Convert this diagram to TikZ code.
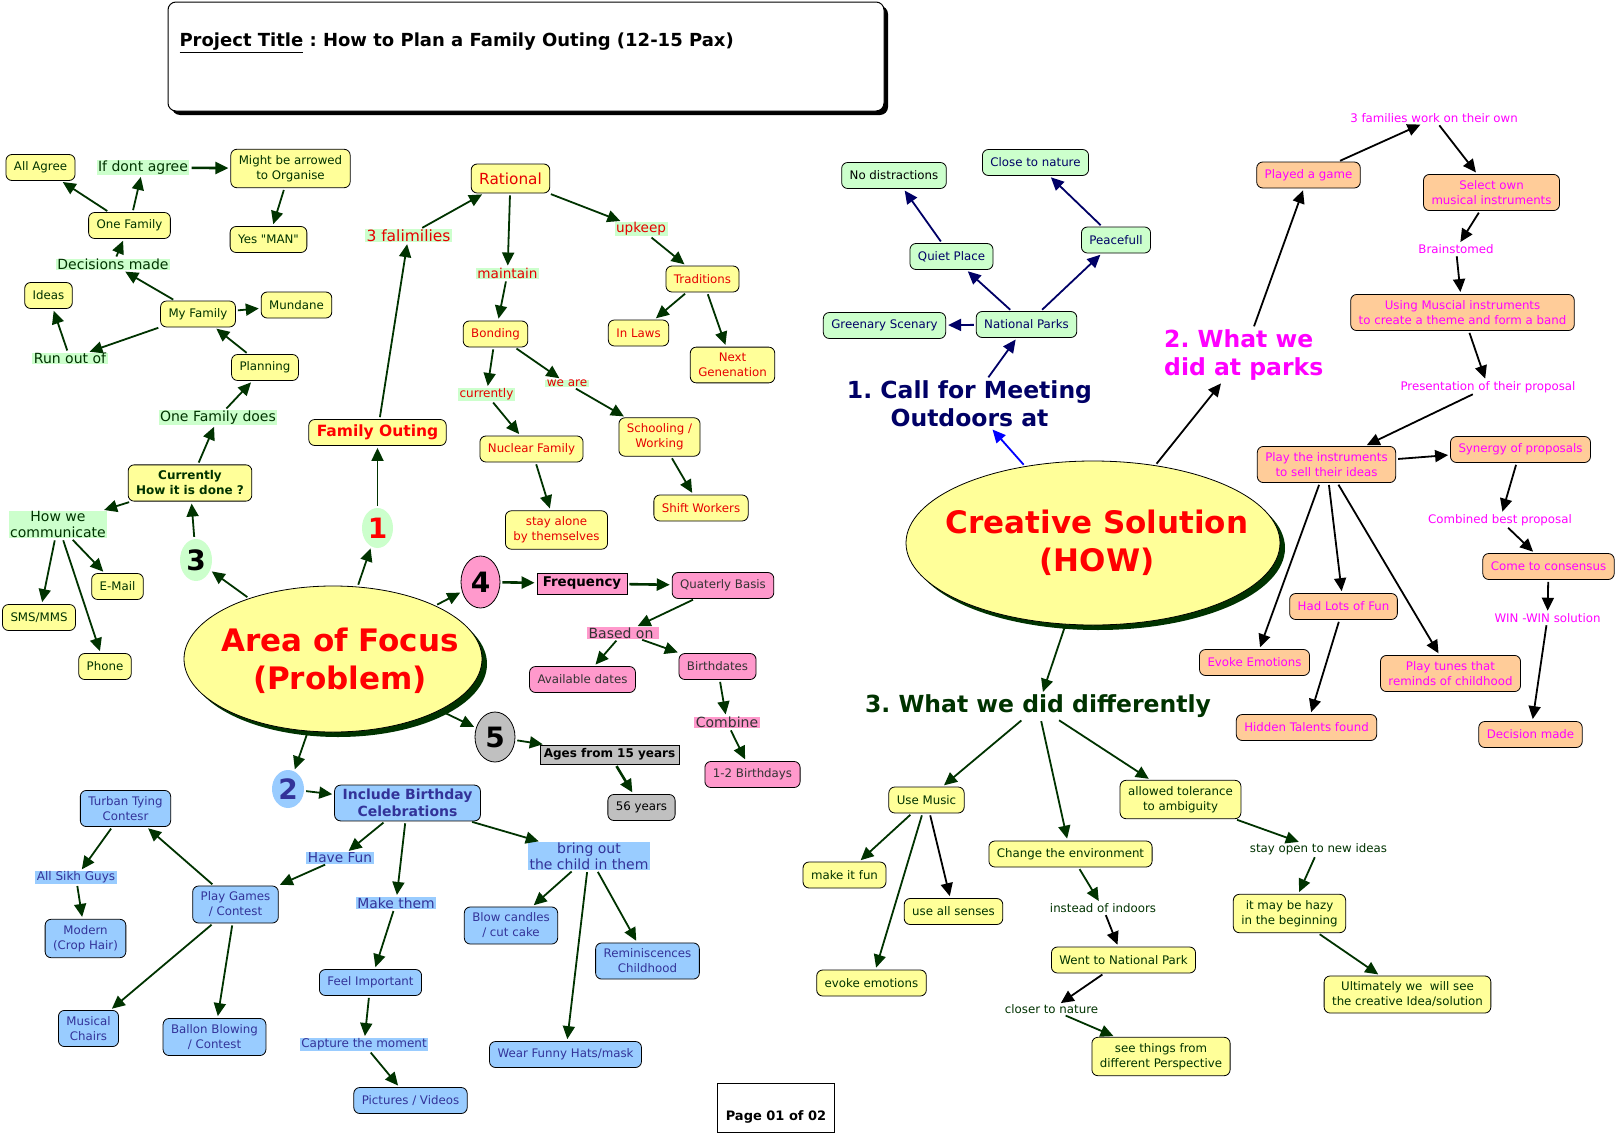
\documentclass[tikz,border=0pt]{standalone}
\usepackage{fontspec}
\setmainfont{DejaVu Sans}
\newfontfamily\qfont{DejaVu Sans}
\usetikzlibrary{arrows.meta,shapes.geometric,shadows}
\frenchspacing

\definecolor{yel}{HTML}{FFFF99}
\definecolor{dkg}{HTML}{003300}
\definecolor{mint}{HTML}{CCFFCC}
\definecolor{redt}{HTML}{FF0000}
\definecolor{redm}{HTML}{E60000}
\definecolor{pinkf}{HTML}{FF99CC}
\definecolor{pinktxt}{HTML}{333333}
\definecolor{grayf}{HTML}{C0C0C0}
\definecolor{bluef}{HTML}{99CCFF}
\definecolor{bluet}{HTML}{333399}
\definecolor{navy}{HTML}{000066}
\definecolor{peach}{HTML}{FFCC99}
\definecolor{mag}{HTML}{FF00FF}

\newcommand\fz[2]{\fontsize{#1pt}{#2pt}\selectfont}
% straight double quote, set without the TeX quote mapping
\newcommand\sq{{\qfont"}}

\tikzset{
  base/.style={rounded corners=6pt, draw=black, line width=0.8pt, align=center,
    inner xsep=8pt, inner ysep=6pt, minimum height=26pt, font=\fz{11.8}{15}},
  ybox/.style={base, fill=yel, text=dkg},
  yboxr/.style={base, fill=yel, text=redm},
  bbox/.style={base, fill=bluef, text=bluet},
  gbox/.style={base, fill=mint, text=navy},
  obox/.style={base, fill=peach, text=mag},
  pbox/.style={base, fill=pinkf, text=pinktxt},
  graybox/.style={base, fill=grayf, text=black},
  lab/.style={inner xsep=1.5pt, inner ysep=0.5pt, align=center},
  labg/.style={lab, fill=mint, text=dkg, font=\fz{14}{16}},
  labr/.style={lab, fill=mint, text=redm, font=\fz{12}{14}},
  labp/.style={lab, fill=pinkf, text=pinktxt, font=\fz{14}{16}},
  labb/.style={lab, fill=bluef, text=bluet, font=\fz{12}{14}},
  labm/.style={lab, text=mag, font=\fz{11.8}{14}},
  labd/.style={lab, text=dkg, font=\fz{11.8}{14}},
  num/.style={ellipse, inner sep=0pt, font=\fz{28}{30}\bfseries},
  focus/.style={ellipse, fill=yel, draw=black, line width=0.8pt, inner sep=0pt,
    drop shadow={shadow xshift=5pt, shadow yshift=-5pt, fill=dkg, opacity=1}},
  focustxt/.style={text=redt, align=center, font=\fz{31}{38}\bfseries},
  bigtxt/.style={align=center, inner sep=1pt, font=\fz{23.5}{28.5}\bfseries},
  ar/.style={-{Triangle[length=13pt,width=12pt]}, line width=1.8pt,
    shorten <=2pt, shorten >=2pt},
  ag/.style={ar, draw=dkg},
  agt/.style={ag, line width=2.6pt},
  anv/.style={ar, draw=navy},
  abk/.style={ar, draw=black},
  abl/.style={ar, draw=blue},
}

\begin{document}
\begin{tikzpicture}[x=1pt, y=-1pt]
\fill[white] (0,0) rectangle (1618,1135);
\useasboundingbox (0,0) rectangle (1618,1135);

% ---------- title and page ----------
\node[draw=black, line width=1pt, rounded corners=8pt, fill=white,
  minimum width=716pt, minimum height=109pt,
  drop shadow={shadow xshift=4pt, shadow yshift=-4pt, fill=black, opacity=1}]
  (titlebox) at (526,56.5) {};
\node[anchor=west, font=\fz{18}{22}\bfseries] (title) at (176,43)
  {\underline{Project Title} : How to Plan a Family Outing (12-15 Pax)};
\node[draw=black, line width=1pt, minimum width=117pt, minimum height=49pt] (page) at (775.5,1107.5) {};
\node[font=\fz{13}{15}\bfseries] (pagetxt) at (776,1117) {Page 01 of 02};

% ---------- area of focus ----------
\node[focus, minimum width=298pt, minimum height=146pt] (area) at (333,659) {};
\node[focustxt] (areatxt) at (340,661) {Area of Focus\\(Problem)};

% branch 3
\node[num, fill=mint, minimum width=32pt, minimum height=42pt] (n3) at (196,560) {3};
\node[ybox, font=\fz{12}{15}\bfseries] (currently) at (190,483) {Currently\\How it is done ?};
\node[labg] (howwe) at (58,524.5) {How we\\communicate};
\node[ybox] (email) at (117.5,586.5) {E-Mail};
\node[ybox] (sms) at (39,617.5) {SMS/MMS};
\node[ybox] (phone) at (105,666.5) {Phone};
\node[labg] (onefamdoes) at (218,417.5) {One Family does};
\node[ybox] (planning) at (265,367.5) {Planning};
\node[ybox] (myfam) at (198,314) {My Family};
\node[ybox] (mundane) at (296.5,305) {Mundane};
\node[labg] (runout) at (70,358.5) {Run out of};
\node[ybox] (ideas) at (48.5,295.5) {Ideas};
\node[labg] (decisions) at (113,264.5) {Decisions made};
\node[ybox] (onefam) at (129.5,225.5) {One Family};
\node[ybox] (allagree) at (40.5,167.5) {All Agree};
\node[labg] (ifdont) at (143,167.5) {If dont agree};
\node[ybox] (might) at (290.5,168.5) {Might be arrowed\\to Organise};
\node[ybox] (yesman) at (268.5,239.5) {Yes \sq MAN\sq};

% branch 1
\node[num, fill=mint, text=redt, minimum width=31pt, minimum height=40pt] (n1) at (377.5,528) {1};
\node[ybox, text=redt, font=\fz{15.5}{18}\bfseries, inner ysep=4pt] (outing) at (377.5,432.5) {Family Outing};
\node[labr, font=\fz{15.5}{18}] (threefal) at (408.5,235.5) {3 falimilies};
\node[yboxr, font=\fz{15.3}{18}, minimum height=29pt] (rational) at (510.5,178.5) {Rational};
\node[labr, font=\fz{13.6}{16}] (maintain) at (507.5,273.5) {maintain};
\node[labr, font=\fz{13.6}{16}] (upkeep) at (641,229) {upkeep};
\node[yboxr] (traditions) at (702.5,279) {Traditions};
\node[yboxr] (bonding) at (495.5,334) {Bonding};
\node[yboxr] (inlaws) at (638.5,333) {In Laws};
\node[yboxr] (nextgen) at (732.5,365) {Next\\Genenation};
\node[labr] (currentlyl) at (486.5,394.5) {currently};
\node[labr] (weare) at (567,383.5) {we are};
\node[yboxr] (nuclear) at (531.5,449) {Nuclear Family};
\node[yboxr] (schooling) at (659.5,437) {Schooling /\\Working};
\node[yboxr] (shift) at (701,508) {Shift Workers};
\node[yboxr] (alone) at (556.5,530) {stay alone\\by themselves};

% branch 4
\node[num, fill=pinkf, draw=black, line width=0.8pt, minimum width=39pt, minimum height=52pt] (n4) at (480.5,582) {4};
\node[draw=black, line width=0.8pt, fill=pinkf, inner sep=1pt, minimum width=90pt, minimum height=21pt,
  font=\fz{13.4}{15}\bfseries] (freq) at (582,583.5) {Frequency};
\node[pbox] (quaterly) at (723,585.5) {Quaterly Basis};
\node[labp] (basedon) at (623,633) {Based on\hspace{4pt}};
\node[pbox] (avail) at (582.5,679.5) {Available dates};
\node[pbox] (birth) at (717.5,666.5) {Birthdates};
\node[labp] (combine) at (727,722.5) {Combine};
\node[pbox] (onetwo) at (752.5,774.5) {1-2 Birthdays};

% branch 5
\node[num, fill=grayf, draw=black, line width=0.8pt, minimum width=40pt, minimum height=50pt] (n5) at (495,737) {5};
\node[draw=black, line width=0.8pt, fill=grayf, inner sep=1pt, minimum width=139pt, minimum height=19pt,
  font=\fz{12}{14}\bfseries] (ages) at (609.5,754.5) {Ages from 15 years};
\node[graybox] (fiftysix) at (641.5,807.5) {56 years};

% branch 2
\node[num, fill=bluef, text=bluet, minimum width=32pt, minimum height=38pt] (n2) at (288,789) {2};
\node[bbox, font=\fz{14}{17}\bfseries, inner ysep=4pt] (include) at (407.5,803) {Include Birthday\\Celebrations};
\node[bbox] (turban) at (125.5,808.5) {Turban Tying\\Contesr};
\node[labb, font=\fz{13.7}{16}] (havefun) at (340,858) {Have Fun};
\node[labb] (sikh) at (76,877.5) {All Sikh Guys};
\node[bbox] (playgames) at (235.5,904.5) {Play Games\\/ Contest};
\node[labb, font=\fz{13.9}{16}] (makethem) at (396,903) {Make them};
\node[bbox] (modern) at (85.5,938.5) {Modern\\(Crop Hair)};
\node[labb, font=\fz{14}{16}] (bringout) at (589,856) {bring out\\the child in them};
\node[bbox] (blow) at (511,925.5) {Blow candles\\/ cut cake};
\node[bbox] (remin) at (647.5,961) {Reminiscences\\Childhood};
\node[bbox] (feel) at (370.5,982.5) {Feel Important};
\node[bbox] (musical) at (88.5,1028.5) {Musical\\Chairs};
\node[bbox] (ballon) at (214.5,1037) {Ballon Blowing\\/ Contest};
\node[labb] (capture) at (364,1044.5) {Capture the moment};
\node[bbox] (wear) at (565.5,1054.5) {Wear Funny Hats/mask};
\node[bbox] (pictures) at (410.5,1100.5) {Pictures / Videos};

% ---------- creative solution ----------
\node[focus, minimum width=374pt, minimum height=164pt] (creative) at (1093,543) {};
\node[focustxt] (creativetxt) at (1097,543) {Creative Solution\\(HOW)};

% 1. meeting outdoors
\node[bigtxt, text=navy] (call) at (969.5,403.5) {1. Call for Meeting\\Outdoors at};
\node[gbox, text=black] (nodist) at (894,175.5) {No distractions};
\node[gbox] (closenat) at (1035.5,162.5) {Close to nature};
\node[gbox] (quiet) at (951.5,256.5) {Quiet Place};
\node[gbox] (peace) at (1116,240) {Peacefull};
\node[gbox] (greenary) at (884.5,325.5) {Greenary Scenary};
\node[gbox] (natparks) at (1026.5,324.5) {National Parks};

% 2. at the parks
\node[bigtxt, text=mag, align=left, anchor=west] (what2) at (1163,355) {2. What we\\did at parks};
\node[obox] (played) at (1308.5,175) {Played a game};
\node[labm] (threefam) at (1434,118.5) {3 families work on their own};
\node[obox] (select) at (1491.5,192.5) {Select own\\musical instruments};
\node[labm] (brain) at (1456,249) {Brainstomed};
\node[obox] (using) at (1462.5,312.5) {Using Muscial instruments\\to create a theme and form a band};
\node[labm] (present) at (1488,387) {Presentation of their proposal};
\node[obox] (playinst) at (1326.5,464.5) {Play the instruments\\to sell their ideas};
\node[obox] (synergy) at (1520.5,449.5) {Synergy of proposals};
\node[labm] (combined) at (1500,520) {Combined best proposal};
\node[obox] (consensus) at (1548.5,566.5) {Come to consensus};
\node[obox] (lotsfun) at (1343.5,606.5) {Had Lots of Fun};
\node[labm] (winwin) at (1547.5,618) {WIN -WIN solution};
\node[obox] (evoke) at (1254.5,662.5) {Evoke Emotions};
\node[obox] (tunes) at (1450.5,673.5) {Play tunes that\\reminds of childhood};
\node[obox] (hidden) at (1306.5,727.5) {Hidden Talents found};
\node[obox] (decision) at (1530.5,734.5) {Decision made};

% 3. done differently
\node[bigtxt, text=dkg] (what3) at (1038,706.5) {3. What we did differently};
\node[ybox] (usemusic) at (926.5,800) {Use Music};
\node[ybox] (makefun) at (844.5,875) {make it fun};
\node[ybox] (senses) at (953.5,911.5) {use all senses};
\node[ybox] (evokeem) at (871.5,983) {evoke emotions};
\node[ybox] (changeenv) at (1070.5,854) {Change the environment};
\node[labd] (instead) at (1103,908) {instead of indoors};
\node[ybox] (went) at (1123.5,960) {Went to National Park};
\node[labd] (closer) at (1051.5,1009.5) {closer to nature};
\node[ybox] (seethings) at (1161,1056.5) {see things from\\different Perspective};
\node[ybox] (allowed) at (1180.5,799.5) {allowed tolerance\\to ambiguity};
\node[labd] (stayopen) at (1318.5,849) {stay open to new ideas};
\node[ybox] (hazy) at (1289.5,913.5) {it may be hazy\\in the beginning};
\node[ybox] (ultimately) at (1407.5,994.5) {Ultimately we\ \ will see\\the creative Idea/solution};

% ---------- connectors: area of focus ----------
\draw[ag] (area) -- (n3);
\draw[ag] (n3) -- (currently);
\draw[ag] (currently) -- (howwe);
\draw[ag] (howwe) -- (sms);
\draw[ag] (howwe) -- (email);
\draw[ag] (howwe) -- (phone);
\draw[ag] (currently) -- (onefamdoes);
\draw[ag] (onefamdoes) -- (planning);
\draw[ag] (planning) -- (myfam);
\draw[ag] (myfam) -- (mundane);
\draw[ag] (myfam) -- (runout);
\draw[ag] (runout) -- (ideas);
\draw[ag] (myfam) -- (decisions);
\draw[ag] (decisions) -- (onefam);
\draw[ag] (onefam) -- (allagree);
\draw[ag] (onefam) -- (ifdont);
\draw[agt] (ifdont) -- (might);
\draw[ag] (might) -- (yesman);

\draw[ag] (area) -- (n1);
\draw[ag] (n1) -- (outing);
\draw[ag] (outing) -- (threefal);
\draw[ag] (threefal) -- (rational);
\draw[ag] (rational) -- (maintain);
\draw[ag] (maintain) -- (bonding);
\draw[ag] (rational) -- (upkeep);
\draw[ag] (upkeep) -- (traditions);
\draw[ag] (traditions) -- (inlaws);
\draw[ag] (traditions) -- (nextgen);
\draw[ag] (bonding) -- (currentlyl);
\draw[ag] (currentlyl) -- (nuclear);
\draw[ag] (nuclear) -- (alone);
\draw[ag] (bonding) -- (weare);
\draw[ag] (weare) -- (schooling);
\draw[ag] (schooling) -- (shift);

\draw[ag] (area) -- (n4);
\draw[agt] (n4) -- (freq);
\draw[agt] (freq) -- (quaterly);
\draw[ag] (quaterly) -- (basedon);
\draw[ag] (basedon) -- (avail);
\draw[ag] (basedon) -- (birth);
\draw[ag] (birth) -- (combine);
\draw[ag] (combine) -- (onetwo);

\draw[ag] (area) -- (n5);
\draw[ag] (n5) -- (ages);
\draw[agt] (ages) -- (fiftysix);

\draw[ag] (area) -- (n2);
\draw[ag] (n2) -- (include);
\draw[ag] (include) -- (havefun);
\draw[ag] (havefun) -- (playgames);
\draw[ag] (playgames) -- (turban);
\draw[ag] (turban) -- (sikh);
\draw[ag] (sikh) -- (modern);
\draw[ag] (playgames) -- (musical);
\draw[ag] (playgames) -- (ballon);
\draw[ag] (include) -- (makethem);
\draw[ag] (makethem) -- (feel);
\draw[ag] (feel) -- (capture);
\draw[ag] (capture) -- (pictures);
\draw[ag] (include) -- (bringout);
\draw[ag] (bringout) -- (blow);
\draw[ag] (bringout) -- (wear);
\draw[ag] (bringout) -- (remin);

% ---------- connectors: creative solution ----------
\draw[abl] (creative) -- (call);
\draw[anv] (call) -- (natparks);
\draw[anv] (natparks) -- (greenary);
\draw[anv] (natparks) -- (quiet);
\draw[anv] (natparks) -- (peace);
\draw[anv] (quiet) -- (nodist);
\draw[anv] (peace) -- (closenat);

\draw[abk] (creative) -- (what2);
\draw[abk] (what2) -- (played);
\draw[abk] (played) -- (threefam);
\draw[abk] (threefam) -- (select);
\draw[abk] (select) -- (brain);
\draw[abk] (brain) -- (using);
\draw[abk] (using) -- (present);
\draw[abk] (present) -- (playinst);
\draw[abk] (playinst) -- (synergy);
\draw[abk] (playinst) -- (evoke);
\draw[abk] (playinst) -- (lotsfun);
\draw[abk] (playinst) -- (tunes);
\draw[abk] (lotsfun) -- (hidden);
\draw[abk] (synergy) -- (combined);
\draw[abk] (combined) -- (consensus);
\draw[abk] (consensus) -- (winwin);
\draw[abk] (winwin) -- (decision);

\draw[ag] (creative) -- (what3);
\draw[ag] (what3) -- (usemusic);
\draw[ag] (what3) -- (changeenv);
\draw[ag] (what3) -- (allowed);
\draw[ag] (usemusic) -- (makefun);
\draw[ag] (usemusic) -- (evokeem);
\draw[abk] (usemusic) -- (senses);
\draw[ag] (changeenv) -- (instead);
\draw[abk] (instead) -- (went);
\draw[abk] (went) -- (closer);
\draw[ag] (closer) -- (seethings);
\draw[ag] (allowed) -- (stayopen);
\draw[ag] (stayopen) -- (hazy);
\draw[ag] (hazy) -- (ultimately);
\end{tikzpicture}
\end{document}
